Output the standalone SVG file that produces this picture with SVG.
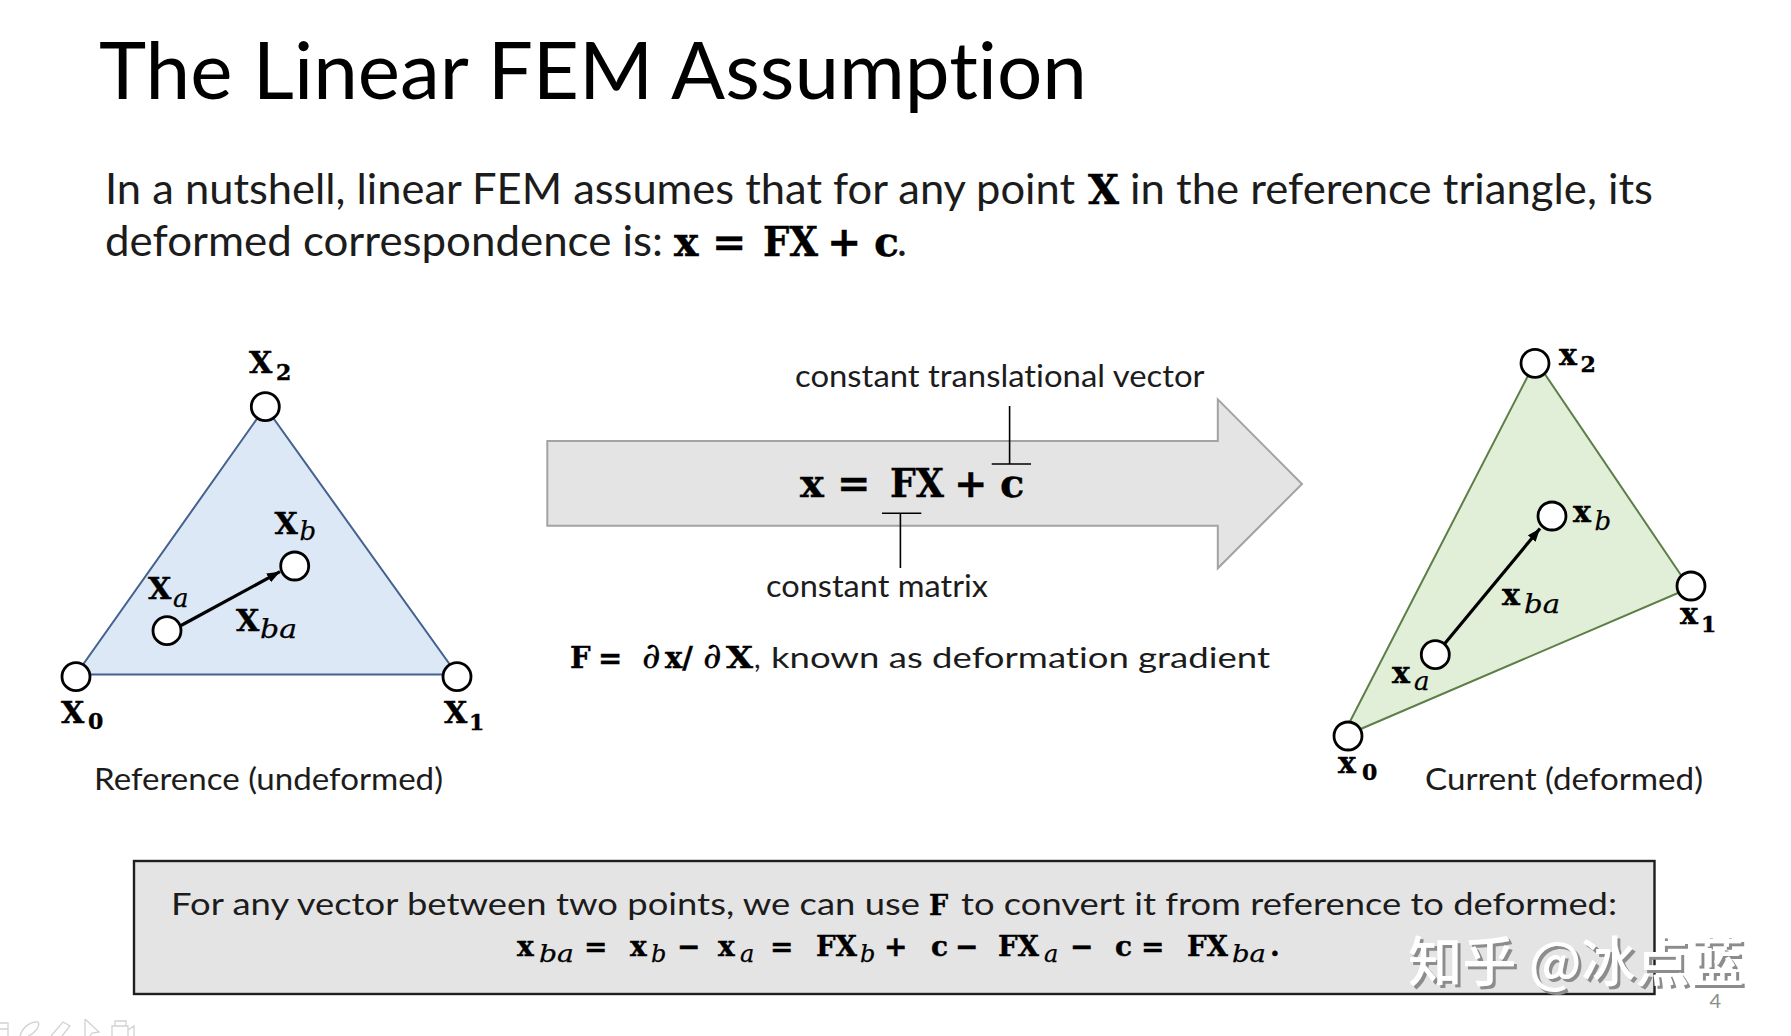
<svg xmlns="http://www.w3.org/2000/svg" width="1791" height="1036" viewBox="0 0 1791 1036">
<style>
text{fill:#000;white-space:pre;font-variant-ligatures:none}
.s{font-family:"Lato","Liberation Sans",sans-serif;font-weight:400}
.c{font-family:"Lato","Liberation Sans",sans-serif;font-weight:400;fill:#1c1c1c}
.m{font-family:"DejaVu Serif",serif;font-weight:700;stroke:#000;stroke-width:.4}
.i{font-family:"DejaVu Serif",serif;font-style:italic;font-weight:400;stroke:#000;stroke-width:.25}
.bx{font-size:30px}
.dg{font-size:22px}
.sub{font-size:26px}
.pt{fill:#fff;stroke:#000;stroke-width:2.8}
.lead{stroke:#000;stroke-width:1.6;fill:none}
.vec{stroke:#000;stroke-width:3.2;fill:none;marker-end:url(#ah)}
.tool{fill:none;stroke:#d2d2d2;stroke-width:1.3}
</style>
<defs>
<marker id="ah" markerUnits="userSpaceOnUse" markerWidth="14" markerHeight="12" refX="13" refY="5" orient="auto"><path d="M0 0L13 5L0 10Z" fill="#000"/></marker>
<filter id="wm" x="-5%" y="-10%" width="110%" height="125%"><feDropShadow dx="3" dy="3" stdDeviation="0.5" flood-color="#8c8c8c"/></filter>
</defs>
<rect width="1791" height="1036" fill="#fff"/>

<g id="title"><text class="s" x="99" y="99" font-size="80" textLength="988" lengthAdjust="spacingAndGlyphs">The Linear FEM Assumption</text></g>

<g id="intro">
<text class="c" x="105" y="204" font-size="42" textLength="970" lengthAdjust="spacingAndGlyphs">In a nutshell, linear FEM assumes that for any point</text>
<text class="m" x="1088" y="204" font-size="41" textLength="31" lengthAdjust="spacingAndGlyphs">X</text>
<text class="c" x="1130" y="204" font-size="42" textLength="523" lengthAdjust="spacingAndGlyphs">in the reference triangle, its</text>
<text class="c" x="105" y="256" font-size="42" textLength="558" lengthAdjust="spacingAndGlyphs">deformed correspondence is:</text>
<text class="m" y="256" font-size="41"><tspan x="674">x</tspan><tspan x="712">=</tspan><tspan x="763" textLength="55" lengthAdjust="spacingAndGlyphs">FX</tspan><tspan x="827">+</tspan><tspan x="874">c</tspan></text>
<text class="c" x="897" y="256" font-size="42">.</text>
</g>

<g id="reference-triangle">
<path d="M76 674.5H457L265.3 407Z" fill="#dce8f5" stroke="#44618f" stroke-width="2"/>
<text class="c" x="94" y="790" font-size="31" textLength="349" lengthAdjust="spacingAndGlyphs">Reference (undeformed)</text>
</g>
<g id="current-triangle">
<path d="M1342 737L1689.7 588L1535.8 360.6Z" fill="#e1eed8" stroke="#5b7f46" stroke-width="2"/>
<text class="c" x="1425" y="790" font-size="31" textLength="278" lengthAdjust="spacingAndGlyphs">Current (deformed)</text>
</g>

<g id="connectors">
<line class="vec" x1="181" y1="625.5" x2="280" y2="571.7"/>
<line class="vec" x1="1444" y1="644.5" x2="1540" y2="528.5"/>
</g>

<g id="X0"><circle class="pt" cx="76" cy="676.7" r="14"/><text class="m bx" x="61" y="723">X</text><text class="m dg" x="88" y="729">0</text></g>
<g id="X1"><circle class="pt" cx="457" cy="676.7" r="14"/><text class="m bx" x="444" y="723">X</text><text class="m dg" x="469" y="730">1</text></g>
<g id="X2"><circle class="pt" cx="265.3" cy="406.7" r="14"/><text class="m bx" x="249" y="372.7">X</text><text class="m dg" x="276" y="380">2</text></g>
<g id="Xa"><circle class="pt" cx="167" cy="630.7" r="14"/><text class="m bx" x="148" y="599">X</text><text class="i sub" x="173" y="607">a</text></g>
<g id="Xb"><circle class="pt" cx="294.7" cy="566" r="14"/><text class="m bx" x="274.5" y="534">X</text><text class="i sub" x="299.5" y="540">b</text></g>
<g id="Xba"><text class="m bx" x="236" y="631">X</text><text class="i sub" x="260" y="638" textLength="37" lengthAdjust="spacingAndGlyphs">ba</text></g>

<g id="x0"><circle class="pt" cx="1348" cy="736" r="14"/><text class="m bx" x="1338" y="773">x</text><text class="m dg" x="1362" y="780">0</text></g>
<g id="x1"><circle class="pt" cx="1691" cy="586" r="14"/><text class="m bx" x="1680" y="624">x</text><text class="m dg" x="1701" y="631.5">1</text></g>
<g id="x2"><circle class="pt" cx="1535" cy="363.3" r="14"/><text class="m bx" x="1559" y="365">x</text><text class="m dg" x="1580.5" y="372">2</text></g>
<g id="xa"><circle class="pt" cx="1435.3" cy="654.7" r="14"/><text class="m bx" x="1392" y="682.5">x</text><text class="i sub" x="1414" y="690">a</text></g>
<g id="xb"><circle class="pt" cx="1552" cy="516" r="14"/><text class="m bx" x="1573" y="521.5">x</text><text class="i sub" x="1594.5" y="530">b</text></g>
<g id="xba"><text class="m bx" x="1502" y="605">x</text><text class="i sub" x="1524" y="612.5" textLength="36" lengthAdjust="spacingAndGlyphs">ba</text></g>

<g id="mapping-arrow">
<path d="M547.3 441H1217.8V399.3L1302 484L1217.8 568.3V525.7H547.3Z" fill="#e4e4e4" stroke="#a3a3a3" stroke-width="2"/>
<text class="m" y="496.7" font-size="40"><tspan x="800">x</tspan><tspan x="837">=</tspan><tspan x="890" textLength="54" lengthAdjust="spacingAndGlyphs">FX</tspan><tspan x="954">+</tspan><tspan x="1000">c</tspan></text>
</g>

<g id="translation-label">
<path class="lead" d="M1009.6 406V464M991.7 464H1031"/>
<text class="c" x="795" y="386.7" font-size="31" textLength="409.5" lengthAdjust="spacingAndGlyphs">constant translational vector</text>
</g>
<g id="matrix-label">
<path class="lead" d="M900.4 513.3V568M882 513.3H921.3"/>
<text class="c" x="766" y="597" font-size="31" textLength="222" lengthAdjust="spacingAndGlyphs">constant matrix</text>
</g>

<g id="gradient-note">
<text class="m" y="668" font-size="29"><tspan x="570">F</tspan><tspan x="598">=</tspan></text>
<text class="i" x="642" y="668" font-size="36">∂</text>
<text class="m" x="665" y="668" font-size="29">x/</text>
<text class="i" x="703" y="668" font-size="36">∂</text>
<text class="m" x="726" y="668" font-size="29" textLength="27" lengthAdjust="spacingAndGlyphs">X</text>
<text class="c" x="754" y="668" font-size="29">,</text>
<text class="c" x="771" y="668" font-size="29" textLength="499" lengthAdjust="spacingAndGlyphs">known as deformation gradient</text>
</g>

<g id="summary-box">
<rect x="134" y="861" width="1520.5" height="133" fill="#e4e4e4" stroke="#1e1e1e" stroke-width="2.4"/>
<text class="c" x="171" y="914.5" font-size="31" textLength="749" lengthAdjust="spacingAndGlyphs">For any vector between two points, we can use</text>
<text class="m" x="929" y="914.5" font-size="27">F</text>
<text class="c" x="961" y="914.5" font-size="31" textLength="656" lengthAdjust="spacingAndGlyphs">to convert it from reference to deformed:</text>
<text class="m" y="956" font-size="28"><tspan x="517">x</tspan><tspan x="584">=</tspan><tspan x="630">x</tspan><tspan x="677">−</tspan><tspan x="718">x</tspan><tspan x="770">=</tspan><tspan x="816" textLength="41" lengthAdjust="spacingAndGlyphs">FX</tspan><tspan x="884">+</tspan><tspan x="931">c</tspan><tspan x="955">−</tspan><tspan x="998" textLength="41" lengthAdjust="spacingAndGlyphs">FX</tspan><tspan x="1070">−</tspan><tspan x="1115">c</tspan><tspan x="1141">=</tspan><tspan x="1187" textLength="41" lengthAdjust="spacingAndGlyphs">FX</tspan></text>
<text class="i" y="962" font-size="24"><tspan x="539" textLength="35" lengthAdjust="spacingAndGlyphs">ba</tspan><tspan x="651">b</tspan><tspan x="740">a</tspan><tspan x="860">b</tspan><tspan x="1044">a</tspan><tspan x="1232" textLength="34" lengthAdjust="spacingAndGlyphs">ba</tspan></text>
<text class="m" x="1270" y="956" font-size="28">.</text>
</g>

<text id="page-number" x="1709.5" y="1008" font-size="20" style="fill:#8c8c8c;font-family:Lato,sans-serif">4</text>

<g id="watermark"><text x="1408" y="982" font-size="54" font-weight="500" textLength="336" lengthAdjust="spacingAndGlyphs" filter="url(#wm)" style="fill:#fff;font-family:'Noto Sans CJK SC',sans-serif">知乎 @冰点蓝</text></g>

<g id="toolbar">
<path class="tool" d="M0 1023H8V1036M0 1029H8"/>
<path class="tool" d="M20 1036C22 1028 30 1021 38 1022C41 1026 34 1034 28 1036"/>
<path class="tool" d="M51 1036L63 1022L70 1026L62 1036"/>
<path class="tool" d="M85 1019V1036M85 1019L99 1032L92 1033L90 1036"/>
<path class="tool" d="M112 1036V1026H128V1036M115 1026V1021H126V1026M128 1030L134 1026V1036"/>
</g>
</svg>
